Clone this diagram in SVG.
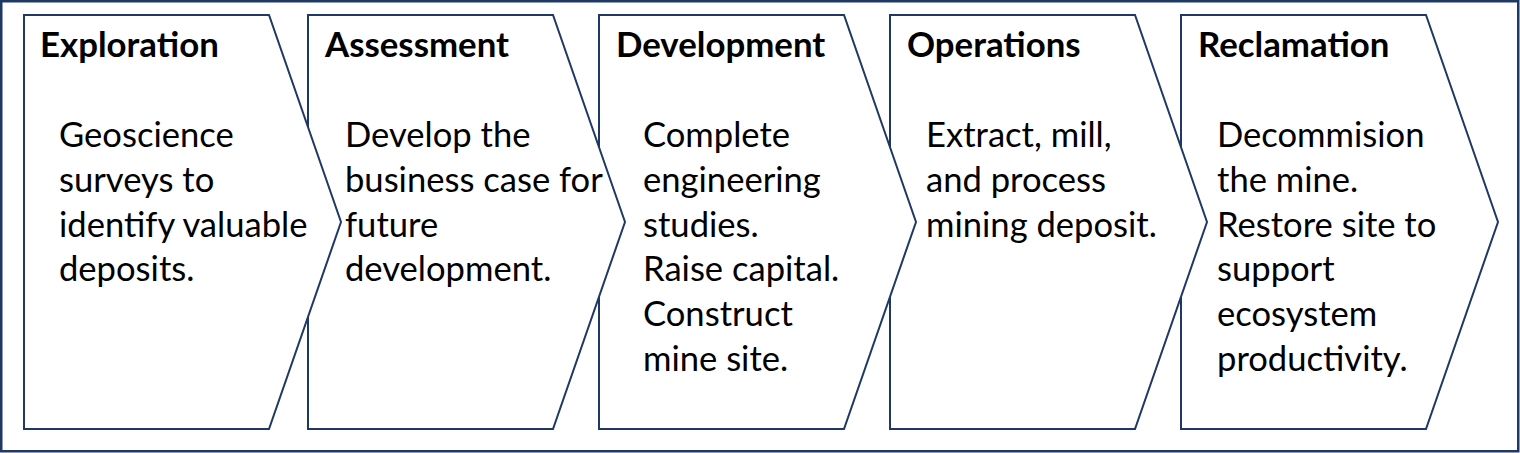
<svg xmlns="http://www.w3.org/2000/svg" width="1520" height="453" viewBox="0 0 1520 453">
<style>
.frame{fill:#ffffff;stroke:#1f3864;stroke-width:2.5}
.chev{fill:#ffffff;stroke:#1f3864;stroke-width:2;stroke-linejoin:miter}
.t{font-family:Lato,"Open Sans","Liberation Sans",sans-serif;font-size:34.8px;font-weight:bold;fill:#000000}
.b{font-family:Lato,"Open Sans","Liberation Sans",sans-serif;font-size:34.6px;fill:#000000}
</style>
<rect class="frame" x="1.25" y="1.25" width="1517" height="450"/>
<g id="connectors"></g>
<g id="reclamation">
<polygon class="chev" points="1181,15 1426,15 1498,222 1426,429 1181,429"/>
<text class="t" x="1198" y="57">Reclamation</text>
<text class="b"><tspan x="1217" y="147">Decommision</tspan><tspan x="1217" y="191.8">the mine.</tspan><tspan x="1217" y="236.6">Restore site to</tspan><tspan x="1217" y="281.4">support</tspan><tspan x="1217" y="326.2">ecosystem</tspan><tspan x="1217" y="371">productivity.</tspan></text>
</g>
<g id="operations">
<polygon class="chev" points="890,15 1135,15 1207,222 1135,429 890,429"/>
<text class="t" x="907" y="57">Operations</text>
<text class="b"><tspan x="926" y="147">Extract, mill,</tspan><tspan x="926" y="191.8">and process</tspan><tspan x="926" y="236.6">mining deposit.</tspan></text>
</g>
<g id="development">
<polygon class="chev" points="599,15 844,15 916,222 844,429 599,429"/>
<text class="t" x="616" y="57">Development</text>
<text class="b"><tspan x="643" y="147">Complete</tspan><tspan x="643" y="191.8">engineering</tspan><tspan x="643" y="236.6">studies.</tspan><tspan x="643" y="281.4">Raise capital.</tspan><tspan x="643" y="326.2">Construct</tspan><tspan x="643" y="371">mine site.</tspan></text>
</g>
<g id="assessment">
<polygon class="chev" points="308,15 553,15 625,222 553,429 308,429"/>
<text class="t" x="325" y="57">Assessment</text>
<text class="b"><tspan x="345" y="147">Develop the</tspan><tspan x="345" y="191.8">business case for</tspan><tspan x="345" y="236.6">future</tspan><tspan x="345" y="281.4">development.</tspan></text>
</g>
<g id="exploration">
<polygon class="chev" points="24,15 269,15 341,222 269,429 24,429"/>
<text class="t" x="40" y="57">Exploration</text>
<text class="b"><tspan x="59" y="147">Geoscience</tspan><tspan x="59" y="191.8">surveys to</tspan><tspan x="59" y="236.6">identify valuable</tspan><tspan x="59" y="281.4">deposits.</tspan></text>
</g>
</svg>
